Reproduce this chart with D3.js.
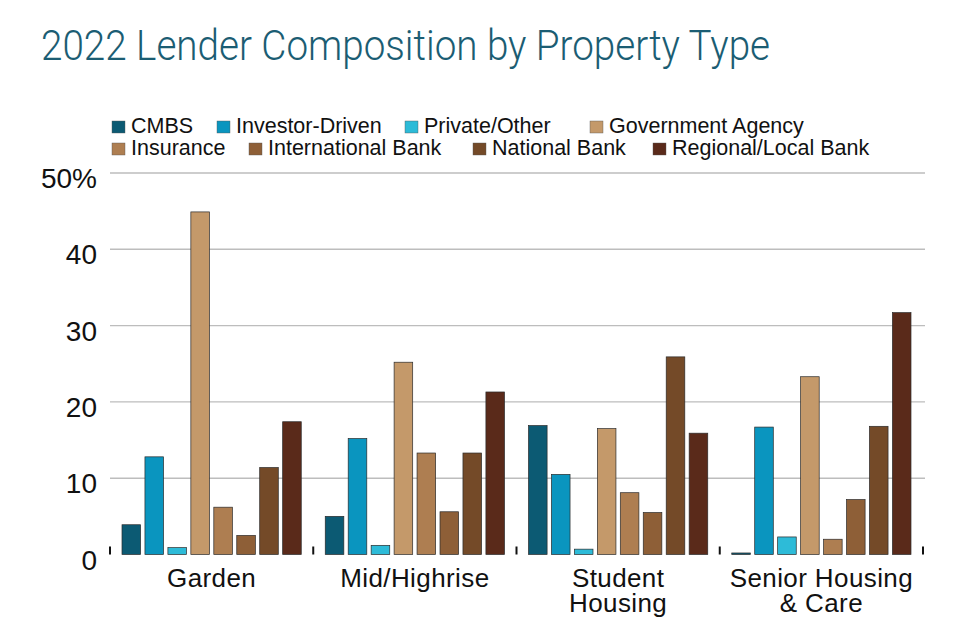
<!DOCTYPE html>
<html>
<head>
<meta charset="utf-8">
<script src="https://cdn.jsdelivr.net/npm/d3@7"></script>
<style>
  body { margin: 0; background: #fff; }
  text { font-family: "Liberation Sans", Arial, Helvetica, sans-serif; }
</style>
</head>
<body>
<div class="chart"></div>
<script>
// categories and their label lines
const categories = ["Garden", "Mid/Highrise", "Student Housing", "Senior Housing & Care"];
const categoryLines = [["Garden"], ["Mid/Highrise"], ["Student", "Housing"], ["Senior Housing", "& Care"]];

// lender types (series) in drawing order
const lenders = ["CMBS", "Investor-Driven", "Private/Other", "Government Agency",
  "Insurance", "International Bank", "National Bank", "Regional/Local Bank"];

// share of loans (%) for each lender, one value per category
const cmbs = [3.9, 5.0, 16.9, 0.2];
const investorDriven = [12.8, 15.2, 10.5, 16.7];
const privateOther = [0.9, 1.2, 0.7, 2.3];
const governmentAgency = [44.9, 25.2, 16.5, 23.3];
const insurance = [6.2, 13.3, 8.1, 2.0];
const internationalBank = [2.5, 5.6, 5.5, 7.2];
const nationalBank = [11.4, 13.3, 25.9, 16.8];
const regionalLocalBank = [17.4, 21.3, 15.9, 31.7];

// y ticks
const yTicks = [0, 10, 20, 30, 40, 50];

const seriesValues = [cmbs, investorDriven, privateOther, governmentAgency,
  insurance, internationalBank, nationalBank, regionalLocalBank];

// colours for the lenders
const colors = ["#0c5a73", "#0a95bf", "#2dbbd8", "#c4996a",
  "#ae7e51", "#8e5f37", "#744a28", "#5a2a1a"];

// layout
const width = 959;
const height = 639;
const plot = { left: 110, right: 923, top: 173, bottom: 554.5 };
// legend item left edges, two rows
const legendX = [112, 217, 405, 590, 112, 249, 473, 653];
const legendRowY = [133, 155];

const svg = d3.select('.chart')
  .append('svg')
  .attr('width', width)
  .attr('height', height);

// title (light condensed look)
svg.append('text')
  .attr('x', 41)
  .attr('y', 60)
  .attr('textLength', 729)
  .attr('lengthAdjust', 'spacingAndGlyphs')
  .style('font-family', 'Roboto, "Liberation Sans", sans-serif')
  .style('font-weight', 300)
  .style('font-size', '43px')
  .style('fill', '#1b5d73')
  .text('2022 Lender Composition by Property Type');

// scales
const x0 = d3.scaleBand()
  .domain(categories)
  .range([plot.left, plot.right])
  .padding(0);

const x1 = d3.scaleBand()
  .domain(lenders)
  .range([12, x0.bandwidth() - 12])
  .paddingInner(0.19)
  .paddingOuter(0);

const y = d3.scaleLinear()
  .domain([0, 50])
  .range([plot.bottom, plot.top]);

const color = d3.scaleOrdinal()
  .domain(lenders)
  .range(colors);

// gridlines (no line at zero)
svg.append('g')
  .selectAll('line')
  .data(yTicks.filter(d => d > 0))
  .enter()
  .append('line')
  .attr('x1', plot.left)
  .attr('x2', plot.right + 2)
  .attr('y1', d => y(d))
  .attr('y2', d => y(d))
  .attr('stroke', '#bdbdbd')
  .attr('stroke-width', 1.4);

// y labels
svg.append('g')
  .selectAll('text')
  .data(yTicks)
  .enter()
  .append('text')
  .attr('x', 97)
  .attr('y', d => y(d) + 15)
  .attr('text-anchor', 'end')
  .style('font-size', '28px')
  .style('fill', '#111')
  .text(d => d === 50 ? '50%' : d);

// bars
const rows = categories.map((c, i) => ({
  category: c,
  values: lenders.map((l, j) => ({ lender: l, value: seriesValues[j][i] }))
}));

const groups = svg.append('g')
  .selectAll('g.group')
  .data(rows)
  .enter()
  .append('g')
  .attr('class', 'group')
  .attr('transform', d => `translate(${x0(d.category)},0)`);

groups.selectAll('rect')
  .data(d => d.values)
  .enter()
  .append('rect')
  .attr('x', d => x1(d.lender))
  .attr('y', d => y(d.value))
  .attr('width', x1.bandwidth())
  .attr('height', d => y(0) - y(d.value))
  .attr('fill', d => color(d.lender))
  .attr('stroke', '#2b2b2b')
  .attr('stroke-width', 0.7);

// small tick marks at group boundaries
const bounds = categories.map(c => x0(c)).concat([plot.right]);
svg.append('g')
  .selectAll('line')
  .data(bounds)
  .enter()
  .append('line')
  .attr('x1', d => d)
  .attr('x2', d => d)
  .attr('y1', plot.bottom - 8)
  .attr('y2', plot.bottom)
  .attr('stroke', '#111')
  .attr('stroke-width', 2);

// category labels
const catLabels = svg.append('g')
  .selectAll('text')
  .data(categories)
  .enter()
  .append('text')
  .attr('text-anchor', 'middle')
  .style('font-size', '26px')
  .style('letter-spacing', '0.4px')
  .style('fill', '#111');

catLabels.selectAll('tspan')
  .data((d, i) => categoryLines[i].map(t => ({ t, c: d })))
  .enter()
  .append('tspan')
  .attr('x', d => x0(d.c) + x0.bandwidth() / 2)
  .attr('y', (d, i) => 587 + i * 25)
  .text(d => d.t);

// legend
const legend = svg.append('g')
  .selectAll('g.item')
  .data(lenders)
  .enter()
  .append('g')
  .attr('class', 'item')
  .attr('transform', (d, i) => `translate(${legendX[i]},${legendRowY[Math.floor(i / 4)]})`);

legend.append('rect')
  .attr('x', 0)
  .attr('y', -12)
  .attr('width', 13)
  .attr('height', 12)
  .attr('fill', d => color(d))
  .attr('stroke', '#555')
  .attr('stroke-width', 0.4);

legend.append('text')
  .attr('x', 19)
  .attr('y', 0)
  .style('font-size', '21.5px')
  .style('fill', '#111')
  .text(d => d);
</script>
</body>
</html>
